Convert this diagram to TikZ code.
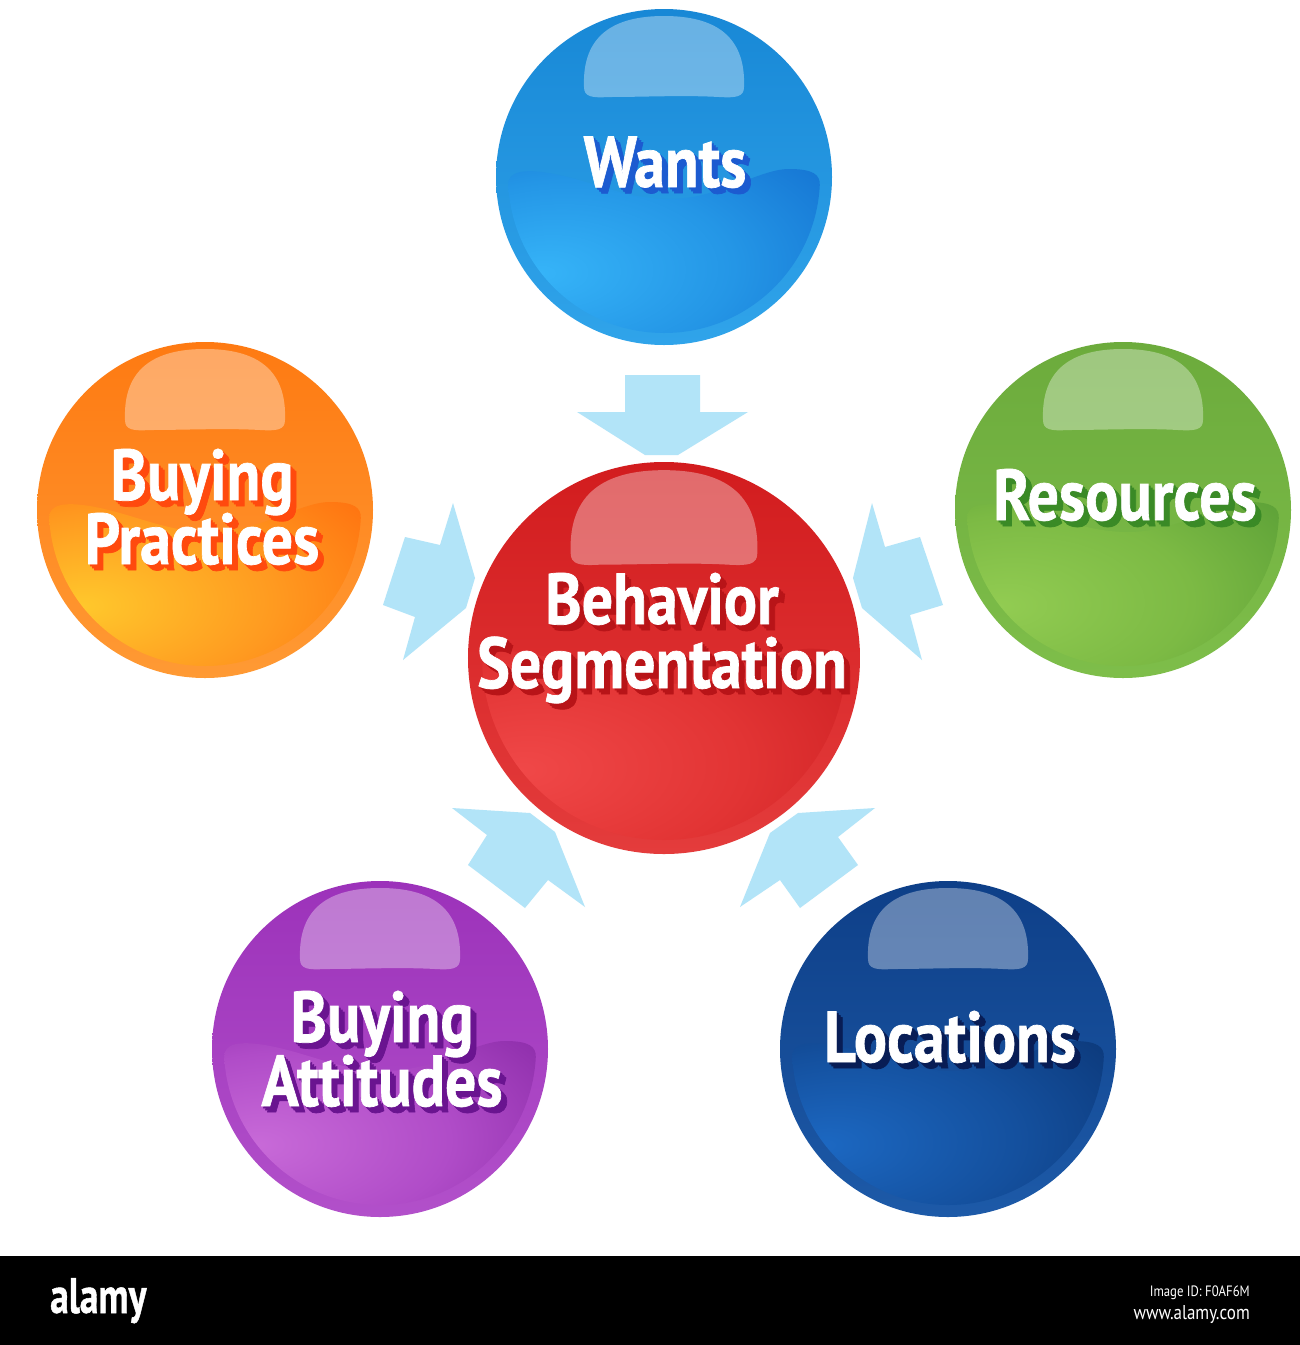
\documentclass[tikz,border=0pt]{standalone}
\usepackage{fontspec}
\usepackage{graphicx}
\setmainfont{PT Sans}
\newfontfamily\heavyfont{PT Sans}[BoldFeatures={FakeBold=1}]
\definecolor{arrowblue}{RGB}{178,228,248}
\colorlet{bowlin}{white}\colorlet{bowlmid}{white}\colorlet{bowlout}{white}\colorlet{ballup}{white}\colorlet{ballrim}{white}\colorlet{shcol}{black}
\pgfdeclareradialshading[bowlin,bowlmid,bowlout]{bowlshade}{\pgfpoint{-20bp}{-6bp}}{color(0bp)=(bowlin); color(26bp)=(bowlmid); color(58bp)=(bowlout); color(100bp)=(bowlout)}
\newcommand\ballshape[8]{% x, y, scale, upper, rim, in, mid, out (HTML hex)
  \definecolor{ballup}{HTML}{#4}\definecolor{ballrim}{HTML}{#5}\definecolor{bowlin}{HTML}{#6}\definecolor{bowlmid}{HTML}{#7}\definecolor{bowlout}{HTML}{#8}%
  \begin{scope}[shift={(#1,#2)}, scale=#3]
    \shade[top color=ballup, middle color=ballup, bottom color=ballrim] (0,0) circle[radius=168];
    \shade[shading=bowlshade] (-155.8,8) .. controls (-156,-6) and (-140,-8) .. (-115,-4)
      .. controls (-70,4) and (-40,22) .. (5,22) .. controls (55,22) and (95,-8) .. (125,-8)
      .. controls (150,-8) and (156,-2) .. (155.8,8) arc[start angle=2.94, end angle=177.06, radius=156] -- cycle;
    \fill[white, opacity=0.35] (-80,-90) .. controls (-82,-142) and (-50,-161) .. (0,-161)
      .. controls (50,-161) and (82,-142) .. (80,-90) .. controls (80,-80) and (72,-79) .. (55,-80)
      .. controls (20,-82) and (-20,-80) .. (-55,-80) .. controls (-72,-79) and (-80,-80) .. cycle;
  \end{scope}}
\newcommand\twol[2]{\vtop{\baselineskip=64pt\lineskiplimit=-200pt\lineskip=0pt\halign{\hfil##\hfil\cr#1\cr#2\cr}}}
\newcommand\slabel[5]{% name, x, y baseline, shadow colour (HTML hex), text
  \definecolor{shcol}{HTML}{#4}%
  \foreach \k in {2,4,6}{\node[lbl, text=shcol] (#1-s\k) at (#2+\k,#3+\k) {\scalebox{0.86}[1]{#5}};}
  \node[lbl, text=white] (#1) at (#2,#3) {\scalebox{0.86}[1]{#5}};}
\begin{document}
\begin{tikzpicture}[x=1pt, y=-1pt,
  lbl/.style={anchor=base, inner sep=0pt, font=\heavyfont\fontsize{72}{64}\selectfont\bfseries},
  blockarrow/.style={fill=arrowblue}]
\fill[white] (0,0) rectangle (1300,1345);
\useasboundingbox (0,0) rectangle (1300,1345);
% arrows
\fill[blockarrow] (625,375) -- (700,375) -- (700,412) -- (748,412) -- (678,455) -- (645,455) -- (577,412) -- (625,412) -- cycle;
\fill[blockarrow] (453,503) -- (475,578) -- (466,608) -- (403,660) -- (415,617) -- (383,605) -- (405,537) -- (440,545) -- cycle;
\fill[blockarrow] (872,503) -- (885,547) -- (920,537) -- (943,605) -- (910,615) -- (922,660) -- (862,608) -- (853,578) -- cycle;
\fill[blockarrow] (452,808) -- (530,813) -- (555,832) -- (585,907) -- (548,880) -- (525,908) -- (468,865) -- (487,835) -- cycle;
\fill[blockarrow] (875,808) -- (798,813) -- (770,833) -- (740,907) -- (780,880) -- (800,908) -- (858,865) -- (838,837) -- cycle;
% spheres
\ballshape{664}{177}{1}{1888D6}{30A4EA}{36B4F8}{2496E6}{0D62C8}
\ballshape{664}{658}{1.1667}{D21C1E}{E43C3C}{F04848}{E23434}{C01418}
\ballshape{205}{510}{1}{FE7A12}{FF9A34}{FFC82C}{FF9A20}{FF5A06}
\ballshape{1123}{510}{1}{6CAB3C}{7EBE4A}{92CC52}{7CBA44}{4A9230}
\ballshape{380}{1049}{1}{9C32BA}{B250CA}{C86AD8}{B04CC8}{7A1C9A}
\ballshape{948}{1049}{1}{0E3F88}{1D5AA8}{1C68C2}{14509E}{082C66}
% labels
\slabel{wants}{665}{187}{1C5BD0}{Wants}
\slabel{behavior}{662}{624}{B81418}{\twol{Behavior}{Segmentation}}
\slabel{practices}{202}{500}{FF4A0E}{\twol{Buying}{Practices}}
\slabel{resources}{1125}{520}{3A8A26}{Resources}
\slabel{attitudes}{382}{1042}{6A1490}{\twol{Buying}{Attitudes}}
\slabel{locations}{950}{1062}{081D55}{Locations}
% footer bar
\fill[black] (0,1256) rectangle (1300,1345);
\node[anchor=base west, inner sep=0pt, text=white, font=\heavyfont\fontsize{50}{50}\selectfont\bfseries] (alamy) at (50,1313) {\scalebox{0.75}[1]{alamy}};
\node[anchor=base east, inner sep=0pt, text=white, font=\fontsize{15}{15}\selectfont] (imgid) at (1250,1296) {\scalebox{0.85}[1]{Image ID: F0AF6M}};
\node[anchor=base east, inner sep=0pt, text=white, font=\fontsize{20}{20}\selectfont] (www) at (1250,1319) {\scalebox{0.85}[1]{www.alamy.com}};
\end{tikzpicture}
\end{document}
